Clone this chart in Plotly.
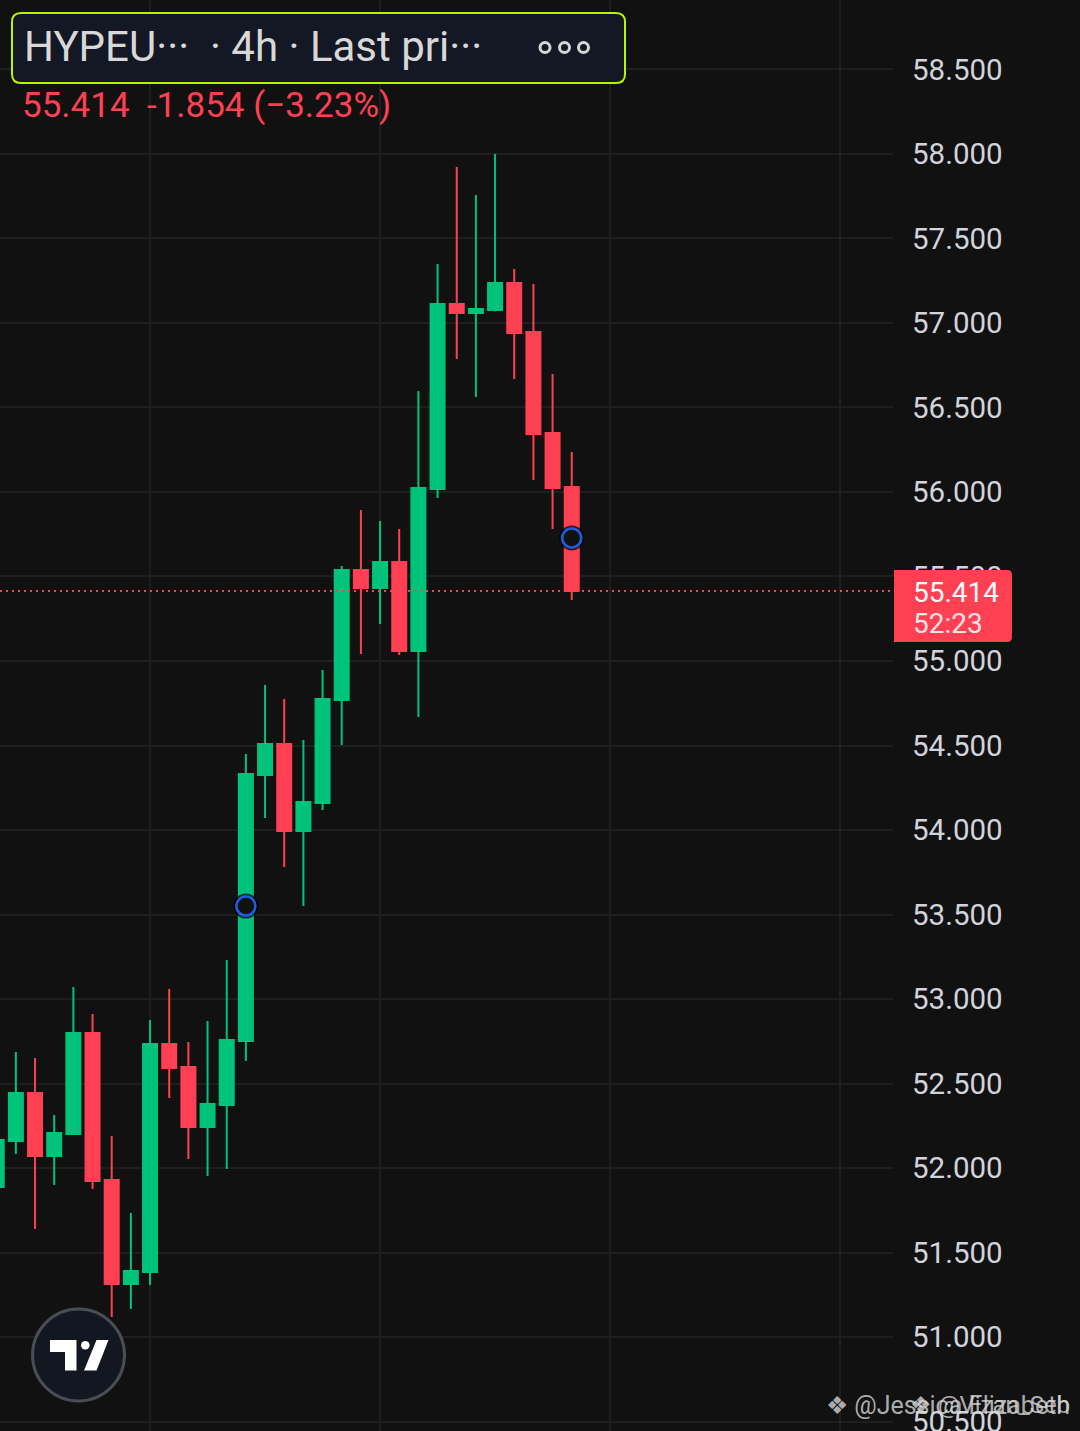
import plotly.graph_objects as go

# ---------------- data ----------------
candle_idx = list(range(31))
opens = [51.888, 52.160, 52.444, 52.071, 52.201, 52.799, 51.929, 51.314, 51.385, 52.734,
         52.598, 52.243, 52.373, 52.751, 54.325, 54.509, 53.994, 54.160, 54.769, 55.538,
         55.432, 55.586, 55.059, 56.018, 57.112, 57.059, 57.077, 57.237, 56.947, 56.349,
         56.030]
highs = [52.250, 52.686, 52.651, 52.314, 53.071, 52.911, 52.189, 51.734, 52.876, 53.059,
         52.746, 52.870, 53.231, 54.450, 54.858, 54.775, 54.533, 54.947, 55.562, 55.893,
         55.828, 55.781, 56.598, 57.349, 57.923, 57.757, 58.000, 57.320, 57.231, 56.698,
         56.237]
lows = [51.800, 52.083, 51.639, 51.899, 52.195, 51.876, 51.118, 51.166, 51.308, 52.414,
        52.053, 51.953, 51.994, 52.633, 54.071, 53.781, 53.550, 54.118, 54.503, 55.041,
        55.219, 55.036, 54.669, 55.964, 56.787, 56.562, 57.070, 56.669, 56.071, 55.781,
        55.361]
closes = [52.166, 52.444, 52.071, 52.207, 52.799, 51.923, 51.314, 51.391, 52.734, 52.592,
          52.243, 52.379, 52.757, 54.331, 54.509, 53.994, 54.166, 54.775, 55.538, 55.432,
          55.586, 55.059, 56.024, 57.112, 57.059, 57.083, 57.237, 56.941, 56.343, 56.024,
          55.414]

marker_idx = [13, 30]
marker_vals = [53.55, 55.728]

ytick_vals = [50.5, 51.0, 51.5, 52.0, 52.5, 53.0, 53.5, 54.0, 54.5, 55.0, 55.5, 56.0,
              56.5, 57.0, 57.5, 58.0, 58.5]
ytick_labels = ["50.500", "51.000", "51.500", "52.000", "52.500", "53.000", "53.500",
                "54.000", "54.500", "55.000", "55.500", "56.000", "56.500", "57.000",
                "57.500", "58.000", "58.500"]
xgrid_vals = [8, 20, 32, 44]

title_text = "HYPEU···  · 4h · Last pri···"
change_text = "55.414  -1.854 (−3.23%)"
last_price_text = "55.414"
countdown_text = "52:23"
watermark_1 = "❖ @Jessica Elizabeth"
watermark_2 = "❖ @Vizan_Seb"

# ---------------- style ----------------
W, H = 1080, 1431
PLOT_R = 893
BG = "#111111"
GRID = "#1e1e1e"
GREEN = "#00C37B"
RED = "#FF4053"
BLUE = "#1F5BDF"
FONT = "Roboto"


def px(x):
    return x / PLOT_R


def py(y):
    return 1 - y / H


def rrect(x0, y0, x1, y1, r, left=True, right=True):
    rl = r if left else 0
    rr = r if right else 0
    p = f"M {px(x0 + rl)},{py(y0)} L {px(x1 - rr)},{py(y0)} "
    p += f"Q {px(x1)},{py(y0)} {px(x1)},{py(y0 + rr)} "
    p += f"L {px(x1)},{py(y1 - rr)} Q {px(x1)},{py(y1)} {px(x1 - rr)},{py(y1)} "
    p += f"L {px(x0 + rl)},{py(y1)} Q {px(x0)},{py(y1)} {px(x0)},{py(y1 - rl)} "
    p += f"L {px(x0)},{py(y0 + rl)} Q {px(x0)},{py(y0)} {px(x0 + rl)},{py(y0)} Z"
    return p


def poly(pts):
    return "M " + " L ".join(f"{px(a)},{py(b)}" for a, b in pts) + " Z"


fig = go.Figure()
fig.add_trace(go.Candlestick(
    x=candle_idx, open=opens, high=highs, low=lows, close=closes,
    increasing=dict(line=dict(color=GREEN, width=2), fillcolor=GREEN),
    decreasing=dict(line=dict(color=RED, width=2), fillcolor=RED),
    whiskerwidth=0, hoverinfo="skip",
))
fig.add_trace(go.Scatter(
    x=marker_idx, y=marker_vals, mode="markers", hoverinfo="skip",
    marker=dict(symbol="circle", size=25, color="rgba(0,0,0,0.75)", line=dict(width=0)),
))
fig.add_trace(go.Scatter(
    x=marker_idx, y=marker_vals, mode="markers", hoverinfo="skip",
    marker=dict(symbol="circle", size=19, color=BG, line=dict(width=2.6, color=BLUE)),
))

shapes = []
shapes.append(dict(type="line", xref="paper", yref="y", x0=0, x1=1,
                   y0=closes[-1], y1=closes[-1], layer="above",
                   line=dict(color=RED, width=2, dash="2px,4px")))
shapes.append(dict(type="path", xref="paper", yref="paper", layer="above",
                   path=rrect(894, 570, 1012, 642, 5, left=False),
                   fillcolor=RED, line=dict(width=0)))
shapes.append(dict(type="path", xref="paper", yref="paper", layer="above",
                   path=rrect(12, 13, 625, 83, 9),
                   fillcolor="#131824", line=dict(color="#B7F400", width=2)))
for cx in [545, 564.5, 583.5]:
    shapes.append(dict(type="circle", xref="paper", yref="paper", layer="above",
                       x0=px(cx - 5), x1=px(cx + 5), y0=py(47.5 + 5), y1=py(47.5 - 5),
                       line=dict(color="#d6d6d6", width=3)))
shapes.append(dict(type="circle", xref="paper", yref="paper", layer="above",
                   x0=px(32.5), x1=px(124.5), y0=py(1401), y1=py(1309),
                   fillcolor="#131722", line=dict(color="#4b4d55", width=3)))
shapes.append(dict(type="path", xref="paper", yref="paper", layer="above",
                   path=poly([(50, 1340), (76.5, 1340), (76.5, 1370.5), (65, 1370.5),
                              (65, 1352), (50, 1352)]),
                   fillcolor="white", line=dict(width=0)))
shapes.append(dict(type="circle", xref="paper", yref="paper", layer="above",
                   x0=px(81), x1=px(89.6), y0=py(1349.5), y1=py(1340.9),
                   fillcolor="white", line=dict(width=0)))
shapes.append(dict(type="path", xref="paper", yref="paper", layer="above",
                   path=poly([(96.5, 1340), (108.5, 1340), (96.5, 1370.5), (84, 1370.5)]),
                   fillcolor="white", line=dict(width=0)))

annotations = [
    dict(text=title_text, xref="paper", yref="paper", x=px(22), y=py(47),
         xanchor="left", yanchor="middle", showarrow=False,
         font=dict(family=FONT, size=42, color="#d8d8d8")),
    dict(text=change_text, xref="paper", yref="paper", x=px(20), y=py(105),
         xanchor="left", yanchor="middle", showarrow=False,
         font=dict(family=FONT, size=35, color=RED)),
    dict(text=last_price_text, xref="paper", yref="paper", x=px(911), y=py(592),
         xanchor="left", yanchor="middle", showarrow=False,
         font=dict(family=FONT, size=28, color="#ffffff")),
    dict(text=countdown_text, xref="paper", yref="paper", x=px(911), y=py(623),
         xanchor="left", yanchor="middle", showarrow=False,
         font=dict(family=FONT, size=28, color="#ffe2e4")),
    dict(text=watermark_1, xref="paper", yref="paper", x=px(1072), y=py(1405),
         xanchor="right", yanchor="middle", showarrow=False,
         font=dict(family=FONT, size=25, color="rgba(215,215,215,0.8)")),
    dict(text=watermark_2, xref="paper", yref="paper", x=px(1072), y=py(1405),
         xanchor="right", yanchor="middle", showarrow=False,
         font=dict(family=FONT, size=24, color="rgba(215,215,215,0.8)")),
]

fig.update_layout(
    width=W, height=H, autosize=False,
    margin=dict(l=0, r=W - PLOT_R, t=0, b=0, pad=0, autoexpand=False),
    paper_bgcolor=BG, plot_bgcolor=BG, showlegend=False,
    boxgap=0.27, boxgroupgap=0,
    xaxis=dict(range=[0.172, 46.76], tickvals=xgrid_vals, showticklabels=False,
               showgrid=True, gridcolor=GRID, gridwidth=2, zeroline=False, automargin=False,
               rangeslider=dict(visible=False), showline=False, ticks="", fixedrange=True),
    yaxis=dict(side="right", range=[50.444, 58.911], tickvals=ytick_vals,
               ticktext=ytick_labels, showgrid=True, gridcolor=GRID, gridwidth=2,
               zeroline=False, showline=False, ticks="", ticklabelstandoff=18,
               ticklabeloverflow="allow", automargin=False,
               tickfont=dict(family=FONT, size=29.5, color="#d1d4dc"), fixedrange=True),
    shapes=shapes, annotations=annotations,
)

fig.write_html(
    "out.html",
    config={"displayModeBar": False},
    post_script="document.body.style.margin='0';document.body.style.background='#111111';",
)
